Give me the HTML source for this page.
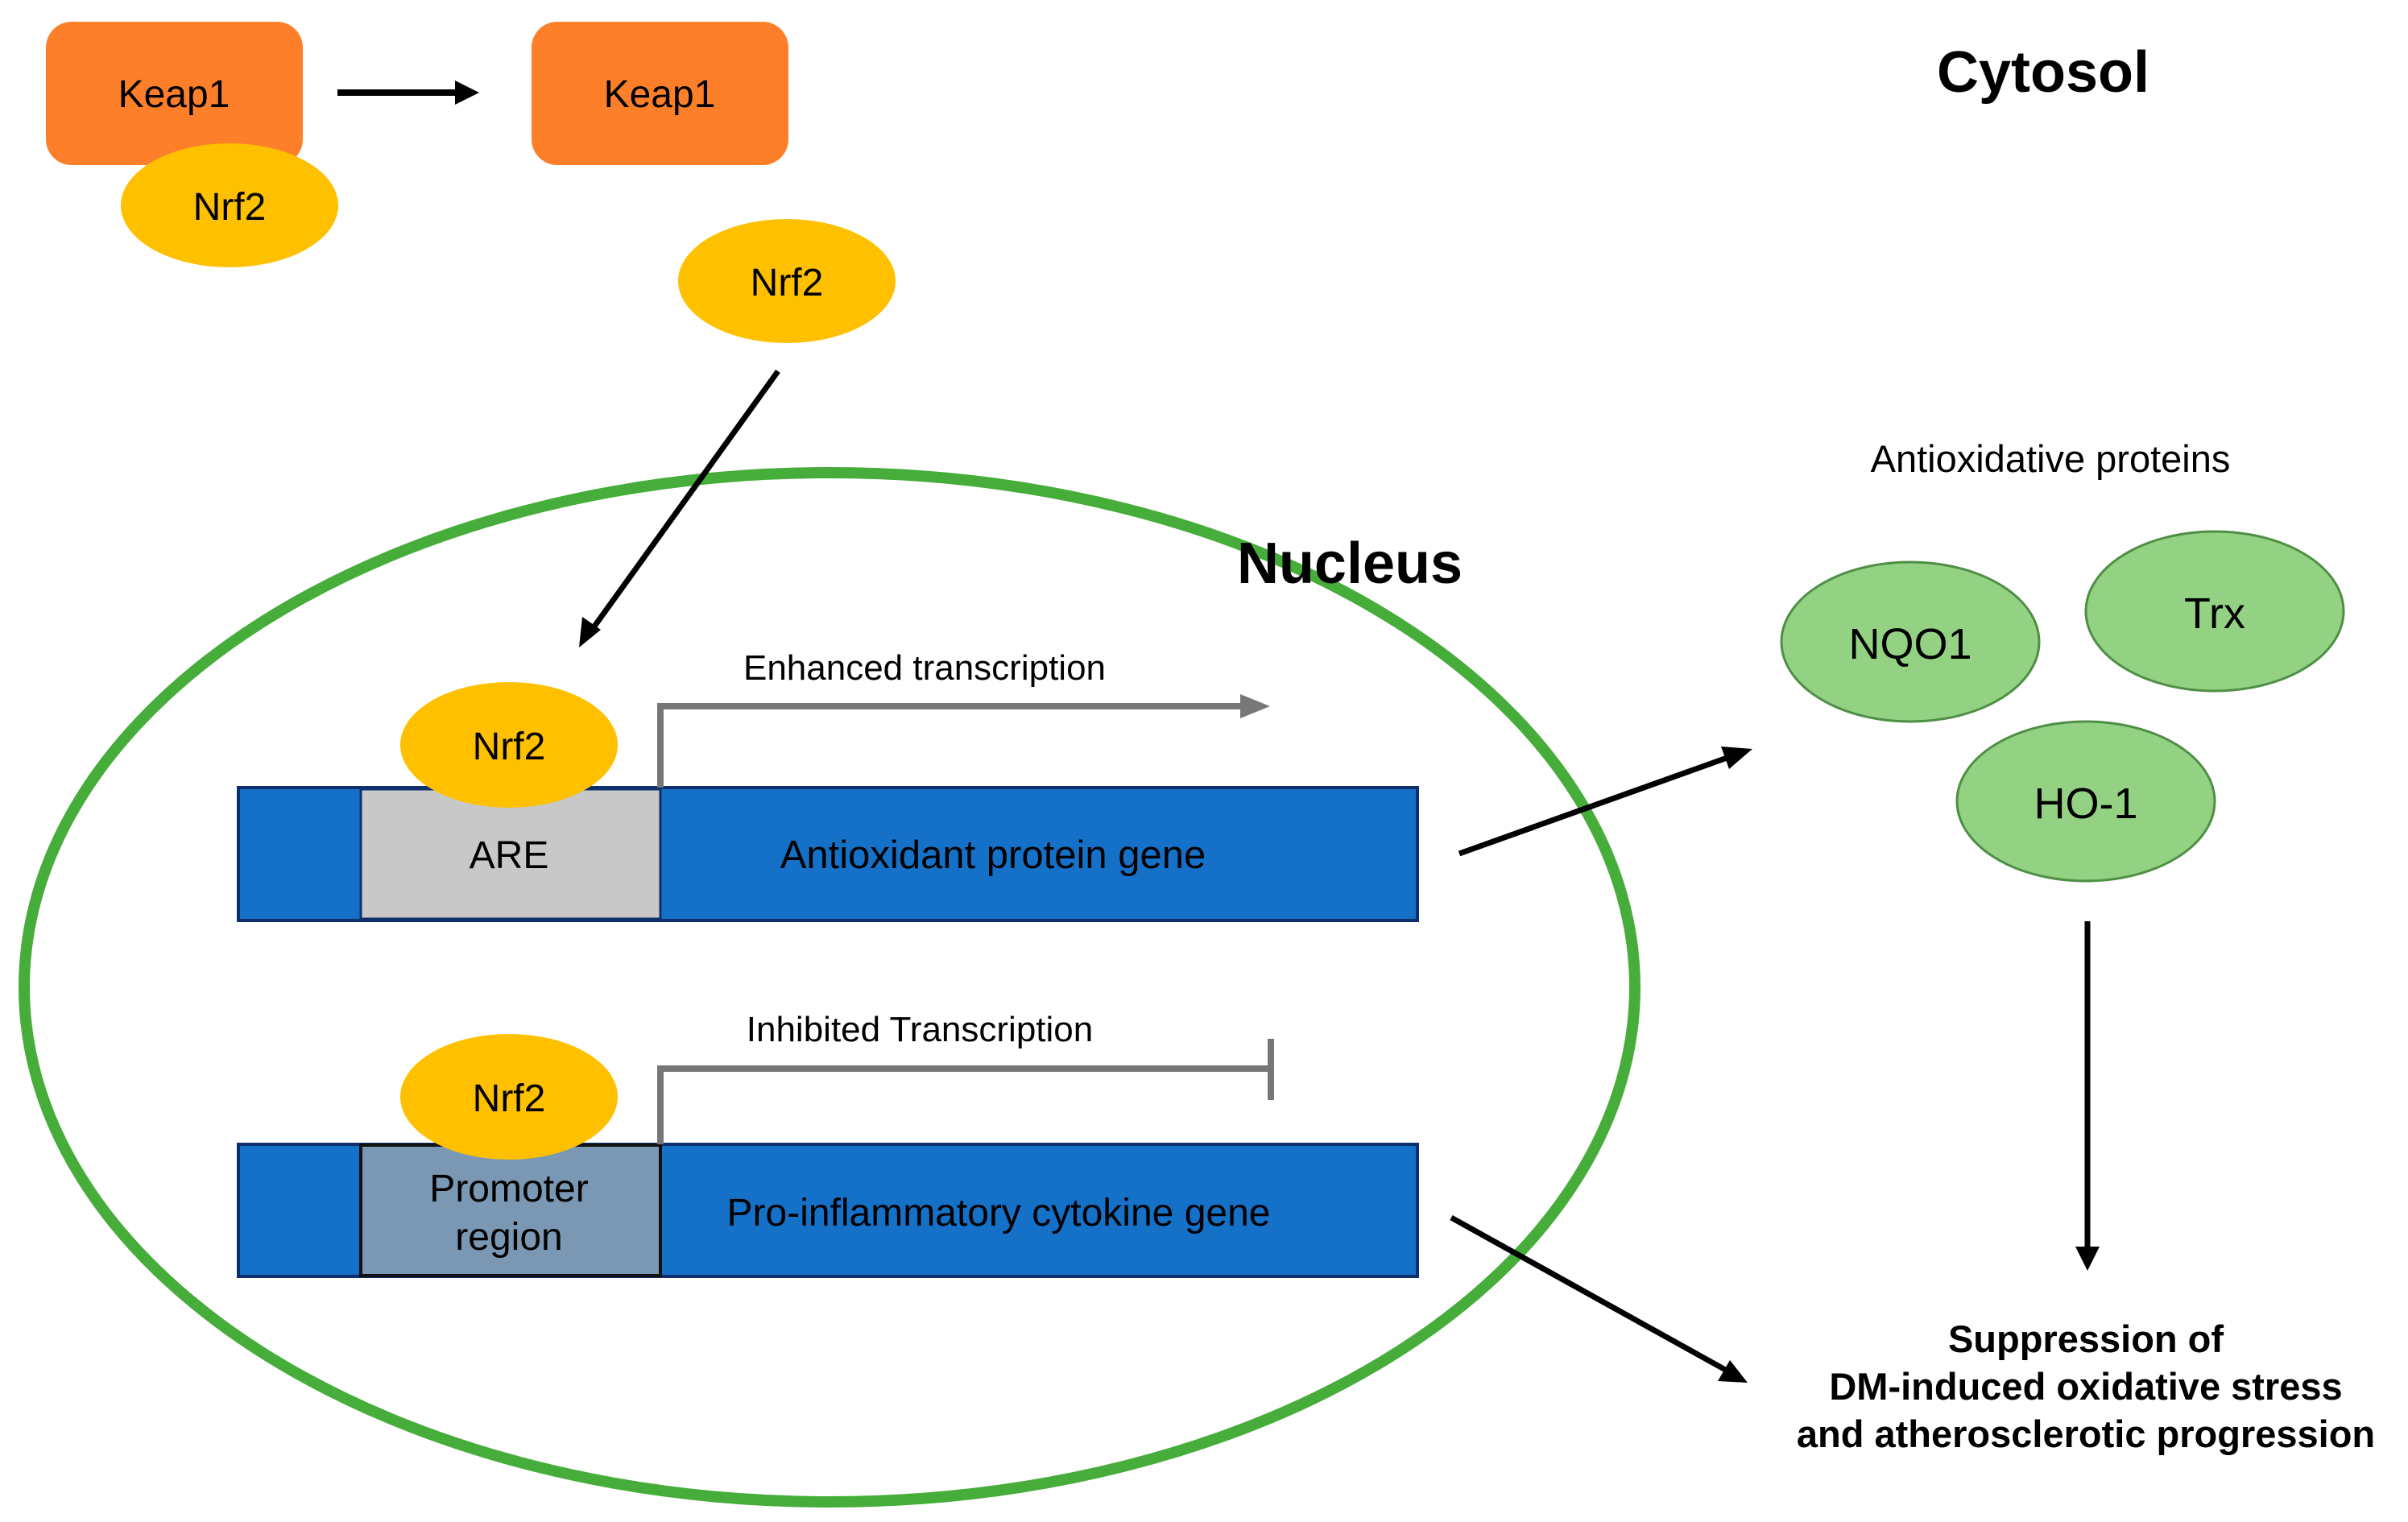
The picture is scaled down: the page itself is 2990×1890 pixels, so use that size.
<!DOCTYPE html>
<html><head><meta charset="utf-8"><style>
html,body{margin:0;padding:0;background:#fff;}
svg{display:block;}
text{font-family:"Liberation Sans",sans-serif;}
</style></head><body>
<svg width="2990" height="1890" viewBox="0 0 2990 1890" xmlns="http://www.w3.org/2000/svg">
<!-- Keap1 boxes -->
<rect x="57" y="27" width="319" height="178" rx="32" fill="#fd7f2a"/>
<text x="216" y="133" font-size="48" text-anchor="middle">Keap1</text>
<ellipse cx="285" cy="255" rx="135" ry="77" fill="#ffc000"/>
<text x="285" y="273" font-size="48" text-anchor="middle">Nrf2</text>
<line x1="419" y1="115" x2="570" y2="115" stroke="#000" stroke-width="8"/>
<path d="M565,100 L595,115 L565,130 z" fill="#000"/>
<rect x="660" y="27" width="319" height="178" rx="32" fill="#fd7f2a"/>
<text x="819" y="133" font-size="48" text-anchor="middle">Keap1</text>
<ellipse cx="977" cy="349" rx="135" ry="77" fill="#ffc000"/>
<text x="977" y="367" font-size="48" text-anchor="middle">Nrf2</text>
<text x="2537" y="114" font-size="72" font-weight="bold" text-anchor="middle">Cytosol</text>
<!-- nucleus -->
<ellipse cx="1030" cy="1226" rx="1000" ry="639" fill="none" stroke="#46ad3a" stroke-width="14"/>
<text x="1676" y="724" font-size="72" font-weight="bold" text-anchor="middle">Nucleus</text>
<!-- arrow into nucleus -->
<line x1="966" y1="461" x2="735" y2="782" stroke="#000" stroke-width="7"/>
<path d="M719,804 L723,766 L746,782 z" fill="#000"/>
<!-- gene bar 1 -->
<rect x="296" y="978" width="1464" height="165" fill="#1570c8" stroke="#0d2f6b" stroke-width="4"/>
<rect x="448" y="980" width="372" height="161" fill="#c8c8c8" stroke="#0d2f6b" stroke-width="3"/>
<text x="632" y="1078" font-size="48" text-anchor="middle">ARE</text>
<text x="1233" y="1078" font-size="49" text-anchor="middle">Antioxidant protein gene</text>
<ellipse cx="632" cy="925" rx="135" ry="78" fill="#ffc000"/>
<text x="632" y="943" font-size="48" text-anchor="middle">Nrf2</text>
<polyline points="820,978 820,877 1545,877" fill="none" stroke="#777" stroke-width="8"/>
<path d="M1540,862 L1577,877 L1540,892 z" fill="#777"/>
<text x="1148" y="844" font-size="44" text-anchor="middle">Enhanced transcription</text>
<!-- gene bar 2 -->
<rect x="296" y="1421" width="1464" height="164" fill="#1570c8" stroke="#0d2f6b" stroke-width="4"/>
<rect x="448" y="1422" width="372" height="162" fill="#7a97b4" stroke="#111" stroke-width="4"/>
<text x="632" y="1492" font-size="48" text-anchor="middle">Promoter</text>
<text x="632" y="1552" font-size="48" text-anchor="middle">region</text>
<text x="1240" y="1522" font-size="48" text-anchor="middle">Pro-inflammatory cytokine gene</text>
<ellipse cx="632" cy="1362" rx="135" ry="78" fill="#ffc000"/>
<text x="632" y="1380" font-size="48" text-anchor="middle">Nrf2</text>
<polyline points="820,1421 820,1327 1578,1327" fill="none" stroke="#777" stroke-width="8"/>
<line x1="1578" y1="1290" x2="1578" y2="1366" stroke="#777" stroke-width="8"/>
<text x="1142" y="1293" font-size="44" text-anchor="middle">Inhibited Transcription</text>
<!-- right side -->
<text x="2546" y="586" font-size="47" text-anchor="middle">Antioxidative proteins</text>
<ellipse cx="2372" cy="797" rx="160" ry="99" fill="#93d283" stroke="#4f8f45" stroke-width="3"/>
<text x="2372" y="818" font-size="54" text-anchor="middle">NQO1</text>
<ellipse cx="2750" cy="759" rx="160" ry="99" fill="#93d283" stroke="#4f8f45" stroke-width="3"/>
<text x="2750" y="780" font-size="54" text-anchor="middle">Trx</text>
<ellipse cx="2590" cy="995" rx="160" ry="99" fill="#93d283" stroke="#4f8f45" stroke-width="3"/>
<text x="2590" y="1016" font-size="54" text-anchor="middle">HO-1</text>
<line x1="1812" y1="1060" x2="2150" y2="939" stroke="#000" stroke-width="7"/>
<path d="M2176,930 L2147,955 L2137,927 z" fill="#000"/>
<line x1="2592" y1="1144" x2="2592" y2="1552" stroke="#000" stroke-width="7"/>
<path d="M2577,1548 L2592,1578 L2607,1548 z" fill="#000"/>
<line x1="1802" y1="1512" x2="2146" y2="1703" stroke="#000" stroke-width="7"/>
<path d="M2170,1717 L2133,1715 L2148,1689 z" fill="#000"/>
<text x="2590" y="1679" font-size="47" font-weight="bold" text-anchor="middle">Suppression of</text>
<text x="2590" y="1738" font-size="47" font-weight="bold" text-anchor="middle">DM-induced oxidative stress</text>
<text x="2590" y="1797" font-size="47" font-weight="bold" text-anchor="middle">and atherosclerotic progression</text>
</svg>
</body></html>
